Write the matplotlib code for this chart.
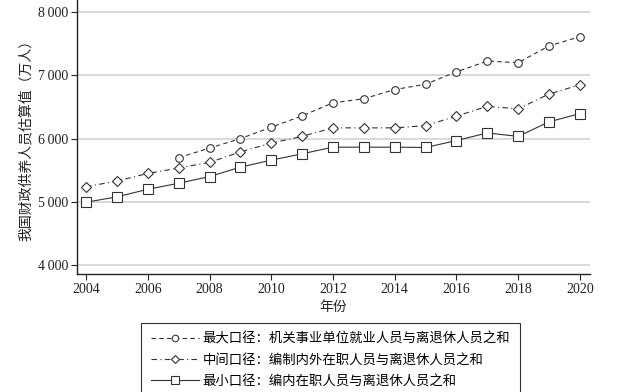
import numpy as np
import matplotlib
matplotlib.use("Agg")
import matplotlib.pyplot as plt
from matplotlib.ticker import FuncFormatter

plt.rcParams["font.family"] = ["Liberation Serif", "Noto Sans CJK SC", "DejaVu Sans"]

################################################################################
# Data
################################################################################
years_max = [2007, 2008, 2009, 2010, 2011, 2012, 2013, 2014, 2015, 2016, 2017, 2018, 2019, 2020]
max_vals = [5700, 5850, 6000, 6180, 6360, 6565, 6630, 6775, 6860, 7055, 7225, 7200, 7465, 7610]

years = list(range(2004, 2021))
mid_vals = [5240, 5330, 5450, 5535, 5625, 5790, 5930, 6035, 6170, 6170, 6170, 6205,
            6355, 6510, 6470, 6705, 6850]
min_vals = [4995, 5080, 5200, 5295, 5400, 5550, 5660, 5760, 5865, 5865, 5865, 5860,
            5970, 6090, 6035, 6265, 6395]

labels = [
    "最大口径：机关事业单位就业人员与离退休人员之和",
    "中间口径：编制内外在职人员与离退休人员之和",
    "最小口径：编内在职人员与离退休人员之和",
]
x_ticks = [2004, 2006, 2008, 2010, 2012, 2014, 2016, 2018, 2020]
y_ticks = [4000, 5000, 6000, 7000, 8000]

################################################################################
# Figure
################################################################################
fig = plt.figure(figsize=(6.4, 3.92), dpi=100)
ax = fig.add_axes([0.120, 0.300, 0.802, 0.700])

lc = "#333333"
ax.plot(years_max, max_vals, linestyle=(0, (4, 3)), color=lc, linewidth=0.8,
        marker="o", markersize=5.5, markerfacecolor="white", markeredgecolor=lc,
        markeredgewidth=0.8, label=labels[0], zorder=3)
ax.plot(years, mid_vals, linestyle=(0, (5, 3, 1, 3)), color=lc, linewidth=0.8,
        marker="D", markersize=5, markerfacecolor="white", markeredgecolor=lc,
        markeredgewidth=0.8, label=labels[1], zorder=3)
ax.plot(years, min_vals, linestyle="-", color=lc, linewidth=0.8,
        marker="s", markersize=7, markerfacecolor="white", markeredgecolor=lc,
        markeredgewidth=0.8, label=labels[2], zorder=3)

ax.set_xlim(2003.7, 2020.33)
ax.set_ylim(3855, 8190)
ax.set_xticks(x_ticks)
ax.set_yticks(y_ticks)
ax.yaxis.set_major_formatter(FuncFormatter(lambda v, p: f"{int(v) // 1000}\u2009{int(v) % 1000:03d}"))

ax.grid(axis="y", color="#cfcfcf", linewidth=1.1, zorder=0)
ax.set_axisbelow(True)

for s in ["top", "right"]:
    ax.spines[s].set_visible(False)
for s in ["left", "bottom"]:
    ax.spines[s].set_color("#222222")
    ax.spines[s].set_linewidth(1.0)

ax.tick_params(axis="both", direction="out", length=4, width=0.8, color="#222222",
               labelsize=10, labelcolor="#222222", pad=2)

ax.set_xlabel("年份", fontsize=10, color="#222222", labelpad=4)
ax.set_ylabel("我国财政供养人员估算值（万人）", fontsize=10, color="#222222", labelpad=4)

leg = fig.legend(loc="upper left", bbox_to_anchor=(0.220, 0.176), borderaxespad=0,
                 ncol=1, fontsize=9.6, frameon=True, fancybox=False, edgecolor="#333333",
                 framealpha=1, handlelength=3.6, handletextpad=0.3, borderpad=0.75,
                 labelspacing=0.6, markerscale=0.85)
leg.get_frame().set_linewidth(0.8)

plt.savefig("out.png", dpi=100)
plt.close()
